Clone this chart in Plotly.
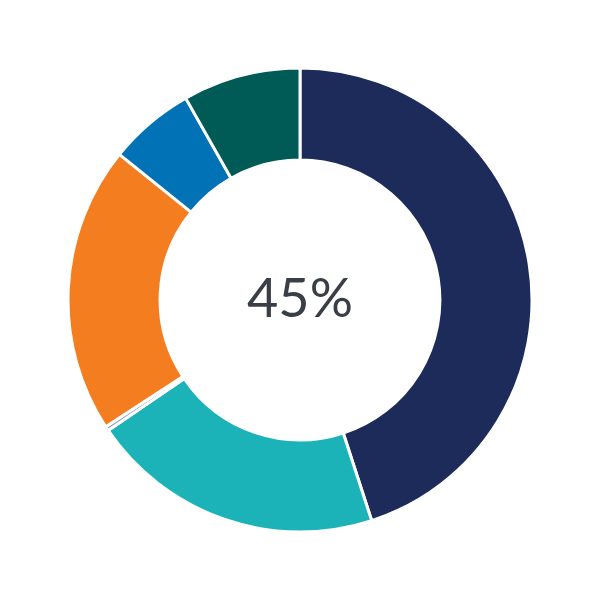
import plotly.graph_objects as go

labels = ['Navy', 'Teal', 'Other', 'Orange', 'Blue', 'Green']
values = [45.0, 20.5, 0.3, 20.0, 6.0, 8.2]
colors = ['#1c2b5a', '#1bb3b7', '#8fa3bd', '#f47d20', '#0072b5', '#005a55']
center_text = '45%'

# page has an 8px body offset, so pull the ring up/left a bit
off = 8 / 600

fig = go.Figure()
fig.add_trace(go.Pie(
    labels=labels,
    values=values,
    hole=0.603,
    sort=False,
    direction='clockwise',
    rotation=0,
    textinfo='none',
    hoverinfo='label+percent',
    marker=dict(colors=colors, line=dict(color='white', width=3)),
    domain=dict(x=[68 / 600 - off, 532 / 600 - off], y=[68 / 600 + off, 532 / 600 + off]),
    showlegend=False,
))

fig.add_annotation(
    text=center_text, x=0.5, y=0.5, xref='paper', yref='paper',
    xshift=-8, yshift=12,
    showarrow=False, font=dict(family='Lato', size=54, color='#3a3f47'),
)

fig.update_layout(
    width=600, height=600,
    margin=dict(l=0, r=0, t=0, b=0),
    paper_bgcolor='white', plot_bgcolor='white',
)

fig.write_html('out.html')
